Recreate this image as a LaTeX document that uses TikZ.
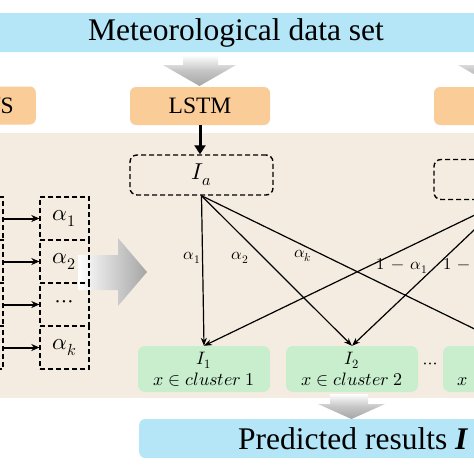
\documentclass[tikz,border=0pt]{standalone}
\usepackage{fontspec}
\usepackage{unicode-math}
\setmainfont{Liberation Serif}
\setmathfont{Latin Modern Math}
\usetikzlibrary{arrows.meta,shadings}
\definecolor{bannerblue}{RGB}{180,230,248}
\definecolor{boxorange}{RGB}{249,204,152}
\definecolor{bgbeige}{RGB}{244,236,224}
\definecolor{boxgreen}{RGB}{200,238,206}
\definecolor{arrowgray}{RGB}{165,165,165}
\begin{document}
\begin{tikzpicture}[x=1pt,y=-1pt,
  banner/.style={fill=bannerblue, rounded corners=6pt, inner ysep=0pt, minimum height=39pt, font=\fontsize{31.5}{34}\selectfont},
  model/.style={fill=boxorange, rounded corners=6pt, minimum width=140pt, minimum height=38pt, inner sep=0pt, font=\fontsize{23.5}{26}\selectfont},
  dbox/.style={draw, line width=1.4pt, dash pattern=on 5pt off 3pt, rounded corners=7pt, minimum width=143pt, minimum height=40pt, inner sep=0pt, font=\fontsize{23}{25}\selectfont},
  abox/.style={draw, line width=1.3pt, dash pattern=on 5pt off 3pt, minimum width=49pt, minimum height=43pt, inner sep=0pt, font=\fontsize{23}{25}\selectfont},
  cbox/.style={fill=boxgreen, rounded corners=7pt, minimum width=132pt, minimum height=46pt, inner sep=0pt, align=center, font=\fontsize{18}{21}\selectfont},
  fan/.style={line width=1.2pt, -{Stealth[length=8pt,width=6pt]}},
  harrow/.style={line width=2pt, -{Stealth[length=8pt,width=7pt]}},
  lbl/.style={font=\fontsize{16.5}{18}\selectfont, inner sep=0pt},
  vshade/.style={top color=white, bottom color=arrowgray, middle color=gray!45},
]
\useasboundingbox (0,0) rectangle (474,474);
\fill[white] (0,0) rectangle (474,474);

% background panel
\fill[bgbeige] (0,133) rectangle (474,398);

% top banner
\node[banner, minimum width=520pt] (data) at (236,32.5) {Meteorological data set};

% top arrows
\shade[vshade] (183,55) -- (218,55) -- (218,65) -- (236,65) -- (199.5,86) -- (163,65) -- (183,65) -- cycle;
\shade[vshade] (477,55) -- (512,55) -- (512,65) -- (530,65) -- (494.5,86) -- (458,65) -- (477,65) -- cycle;

% model boxes
\node[model, minimum width=0pt, inner xsep=22pt, anchor=east] (m1) at (36,105.5) {VS};
\node[model] (lstm) at (200,106) {LSTM};
\node[model] (m3) at (504,106) {};

% dashed output boxes
\node[dbox] (Ia) at (201.5,175) {$I_a$};
\node[dbox] (Ib) at (505.5,179.5) {};
\draw[line width=3pt, -{Triangle[length=9pt,width=11pt]}] (lstm.south) -- (lstm.south |- Ia.north);

% big middle arrow
\shade[left color=white, right color=arrowgray] (78,255) -- (118,255) -- (118,238) -- (147,272) -- (118,306) -- (118,290) -- (78,290) -- cycle;

% left stacked boxes and alpha boxes
\foreach \i/\y/\t in {1/218.5/{$\alpha_1$}, 2/261.5/{$\alpha_2$}, 3/304.5/{$\cdots$}, 4/347.5/{$\alpha_k$}} {
  \node[abox, minimum width=46pt] (l\i) at (-20,\y) {};
  \node[abox] (a\i) at (64.5,\y) {\t};
  \draw[harrow] (l\i.east) -- (a\i.west);
}

% cluster boxes
\node[cbox] (c1) at (204,369) {$I_1$\\$x\in cluster\ 1$};
\node[cbox] (c2) at (352,369) {$I_2$\\$x\in cluster\ 2$};
\node[cbox] (ck) at (509,369) {$I_k$\\$x\in cluster\ k$};
\node[font=\fontsize{18}{20}\selectfont, inner sep=0pt] (dots) at (430,366) {$\cdots$};

% weighted connections
\draw[fan] (Ia.south) -- (c1.north);
\draw[fan] (Ia.south) -- (c2.north);
\draw[fan] (Ia.south) -- (ck.north);
\draw[fan] (Ib.south) -- (c1.north);
\draw[fan] (Ib.south) -- (c2.north);

% weight labels
\node[lbl] (w1) at (192,258) {$\alpha_1$};
\node[lbl] (w2) at (240,258) {$\alpha_2$};
\node[lbl] (w3) at (303,256) {$\alpha_k$};
\node[lbl] (w4) at (402,266) {$1\,-\,\alpha_1$};
\node[lbl, anchor=west] (w5) at (443,266) {$1\,-\,\alpha_2$};

% bottom arrow and banner
\shade[vshade] (330,394) -- (368,394) -- (368,404) -- (385,404) -- (351.5,419) -- (318,404) -- (330,404) -- cycle;
\node[banner, anchor=west, inner xsep=99pt] (pred) at (139,438.5) {Predicted results \textbf{\textit{I}}};
\end{tikzpicture}
\end{document}
